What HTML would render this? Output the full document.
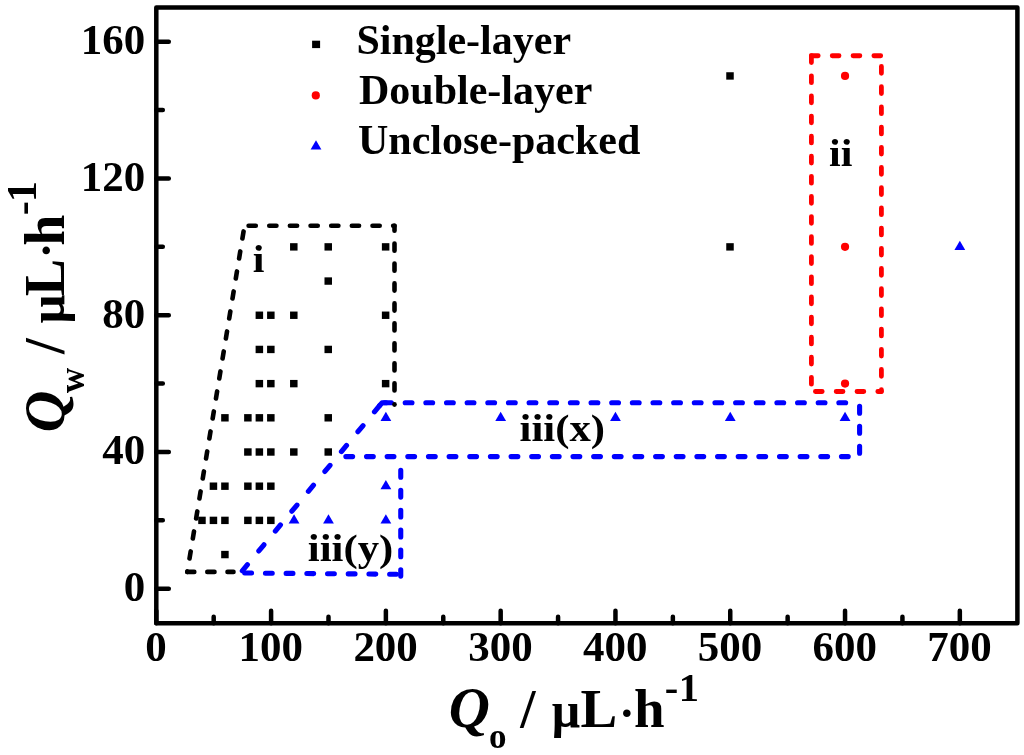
<!DOCTYPE html>
<html lang="en"><head><meta charset="utf-8"><title>Phase diagram</title>
<style>
html,body{margin:0;padding:0;background:#fff;}
body{width:1024px;height:755px;overflow:hidden;}
svg{display:block;}
text{font-family:"Liberation Serif","Times New Roman",serif;font-weight:bold;fill:#000;}
.tk{font-size:41.3px;}
.lg{font-size:42px;}
.rg{font-size:38.6px;}
.ax{stroke:#000;stroke-width:4.5;stroke-linecap:round;stroke-linejoin:round;fill:none;}
.ds{fill:none;stroke-linecap:round;}
</style></head><body>
<svg width="1024" height="755" viewBox="0 0 1024 755">
<rect width="1024" height="755" fill="#fff"/>

<rect class="ax" x="156.3" y="7.55" width="861.10" height="615.75"/>
<path class="ax" d="M156.30 623.3V610.80M213.69 623.3V616.80M271.09 623.3V610.80M328.49 623.3V616.80M385.88 623.3V610.80M443.27 623.3V616.80M500.67 623.3V610.80M558.07 623.3V616.80M615.46 623.3V610.80M672.86 623.3V616.80M730.25 623.3V610.80M787.64 623.3V616.80M845.04 623.3V610.80M902.43 623.3V616.80M959.83 623.3V610.80M156.3 588.70H168.80M156.3 520.33H162.80M156.3 451.95H168.80M156.3 383.58H162.80M156.3 315.20H168.80M156.3 246.83H162.80M156.3 178.45H168.80M156.3 110.08H162.80M156.3 41.70H168.80"/>
<text class="tk" transform="translate(156.0 661) scale(1.04 1)" text-anchor="middle">0</text>
<text class="tk" transform="translate(270.8 661) scale(1.04 1)" text-anchor="middle">100</text>
<text class="tk" transform="translate(385.6 661) scale(1.04 1)" text-anchor="middle">200</text>
<text class="tk" transform="translate(500.4 661) scale(1.04 1)" text-anchor="middle">300</text>
<text class="tk" transform="translate(615.2 661) scale(1.04 1)" text-anchor="middle">400</text>
<text class="tk" transform="translate(730.0 661) scale(1.04 1)" text-anchor="middle">500</text>
<text class="tk" transform="translate(844.7 661) scale(1.04 1)" text-anchor="middle">600</text>
<text class="tk" transform="translate(959.5 661) scale(1.04 1)" text-anchor="middle">700</text>
<text class="tk" transform="translate(145.2 601.0) scale(1.04 1)" text-anchor="end">0</text>
<text class="tk" transform="translate(145.2 464.3) scale(1.04 1)" text-anchor="end">40</text>
<text class="tk" transform="translate(145.2 327.5) scale(1.04 1)" text-anchor="end">80</text>
<text class="tk" transform="translate(145.2 190.8) scale(1.04 1)" text-anchor="end">120</text>
<text class="tk" transform="translate(145.2 54.0) scale(1.04 1)" text-anchor="end">160</text>
<path class="ds" stroke="#f00" stroke-width="4.8" stroke-dasharray="6.8 14.03" stroke-dashoffset="0.00" d="M811.4 55.75L881.4 55.75"/>
<path class="ds" stroke="#f00" stroke-width="4.8" stroke-dasharray="6.8 13.40" stroke-dashoffset="9.45" d="M881.4 55.75L881.4 391.5"/>
<path class="ds" stroke="#f00" stroke-width="4.8" stroke-dasharray="6.8 14.00" stroke-dashoffset="3.20" d="M881.4 391.5L811.4 391.5"/>
<path class="ds" stroke="#f00" stroke-width="4.8" stroke-dasharray="6.8 13.30" stroke-dashoffset="0.00" d="M811.4 55.75L811.4 391.5"/>
<path class="ds" stroke="#00f" stroke-width="5.1" stroke-dasharray="8.0 17.84" stroke-dashoffset="23.30" d="M240.7 572.8L382 402.8"/>
<path class="ds" stroke="#00f" stroke-width="5.1" stroke-dasharray="6.8 13.85" stroke-dashoffset="18.10" d="M382 402.8L855 402.8"/>
<path fill="none" stroke="#00f" stroke-width="5.1" stroke-linecap="round" stroke-linejoin="round" d="M379.6 405.7L382 402.8H386"/>
<path class="ds" stroke="#00f" stroke-width="5.1" stroke-dasharray="6.8 13.20" stroke-dashoffset="16.45" d="M859.6 402.8L859.6 456.6"/>
<path class="ds" stroke="#00f" stroke-width="5.1" stroke-dasharray="6.8 13.85" stroke-dashoffset="9.30" d="M859.6 456.6L345.85 456.6"/>
<path class="ds" stroke="#00f" stroke-width="5.1" stroke-dasharray="6.8 13.10" stroke-dashoffset="0.00" d="M400.75 470.4L400.75 576.1"/>
<path class="ds" stroke="#00f" stroke-width="5.1" stroke-dasharray="6.8 13.90" stroke-dashoffset="18.95" d="M243 573L400.75 574.3"/>
<path class="ds" stroke="#000" stroke-width="4.6" stroke-dasharray="7.2 13.45" stroke-dashoffset="20.05" d="M248 225.8L394.5 225.8"/>
<path class="ds" stroke="#000" stroke-width="4.6" stroke-dasharray="7.2 12.76" stroke-dashoffset="2.26" d="M394.5 225.8L394.5 399"/>
<path class="ds" stroke="#000" stroke-width="4.6" stroke-dasharray="7.2 13.07" stroke-dashoffset="14.55" d="M244.5 225.8L187.3 571.9"/>
<path class="ds" stroke="#000" stroke-width="4.6" stroke-dasharray="7.2 13.00" stroke-dashoffset="0.20" d="M187.3 571.9L233.5 571.9"/>
<path fill="none" stroke="#000" stroke-width="4.7" stroke-linecap="round" d="M394.5 404.4v0.2"/>
<rect x="726.25" y="72.24" width="7.5" height="7.4" fill="#000"/>
<rect x="290.05" y="243.18" width="7.5" height="7.4" fill="#000"/>
<rect x="324.49" y="243.18" width="7.5" height="7.4" fill="#000"/>
<rect x="381.88" y="243.18" width="7.5" height="7.4" fill="#000"/>
<rect x="726.25" y="243.18" width="7.5" height="7.4" fill="#000"/>
<rect x="324.49" y="277.36" width="7.5" height="7.4" fill="#000"/>
<rect x="255.61" y="311.55" width="7.5" height="7.4" fill="#000"/>
<rect x="267.09" y="311.55" width="7.5" height="7.4" fill="#000"/>
<rect x="290.05" y="311.55" width="7.5" height="7.4" fill="#000"/>
<rect x="381.88" y="311.55" width="7.5" height="7.4" fill="#000"/>
<rect x="255.61" y="345.74" width="7.5" height="7.4" fill="#000"/>
<rect x="267.09" y="345.74" width="7.5" height="7.4" fill="#000"/>
<rect x="324.49" y="345.74" width="7.5" height="7.4" fill="#000"/>
<rect x="255.61" y="379.93" width="7.5" height="7.4" fill="#000"/>
<rect x="267.09" y="379.93" width="7.5" height="7.4" fill="#000"/>
<rect x="290.05" y="379.93" width="7.5" height="7.4" fill="#000"/>
<rect x="381.88" y="379.93" width="7.5" height="7.4" fill="#000"/>
<rect x="221.17" y="414.11" width="7.5" height="7.4" fill="#000"/>
<rect x="244.13" y="414.11" width="7.5" height="7.4" fill="#000"/>
<rect x="255.61" y="414.11" width="7.5" height="7.4" fill="#000"/>
<rect x="267.09" y="414.11" width="7.5" height="7.4" fill="#000"/>
<rect x="324.49" y="414.11" width="7.5" height="7.4" fill="#000"/>
<rect x="244.13" y="448.30" width="7.5" height="7.4" fill="#000"/>
<rect x="255.61" y="448.30" width="7.5" height="7.4" fill="#000"/>
<rect x="267.09" y="448.30" width="7.5" height="7.4" fill="#000"/>
<rect x="290.05" y="448.30" width="7.5" height="7.4" fill="#000"/>
<rect x="324.49" y="448.30" width="7.5" height="7.4" fill="#000"/>
<rect x="209.69" y="482.49" width="7.5" height="7.4" fill="#000"/>
<rect x="221.17" y="482.49" width="7.5" height="7.4" fill="#000"/>
<rect x="244.13" y="482.49" width="7.5" height="7.4" fill="#000"/>
<rect x="255.61" y="482.49" width="7.5" height="7.4" fill="#000"/>
<rect x="267.09" y="482.49" width="7.5" height="7.4" fill="#000"/>
<rect x="198.22" y="516.68" width="7.5" height="7.4" fill="#000"/>
<rect x="209.69" y="516.68" width="7.5" height="7.4" fill="#000"/>
<rect x="221.17" y="516.68" width="7.5" height="7.4" fill="#000"/>
<rect x="244.13" y="516.68" width="7.5" height="7.4" fill="#000"/>
<rect x="255.61" y="516.68" width="7.5" height="7.4" fill="#000"/>
<rect x="267.09" y="516.68" width="7.5" height="7.4" fill="#000"/>
<rect x="221.17" y="550.86" width="7.5" height="7.4" fill="#000"/>
<circle cx="845.04" cy="75.89" r="4.1" fill="#f00"/>
<circle cx="845.04" cy="246.83" r="4.1" fill="#f00"/>
<circle cx="845.04" cy="383.58" r="4.1" fill="#f00"/>
<path fill="#00f" d="M959.83 240.73L965.23 250.03H954.43Z"/>
<path fill="#00f" d="M385.88 411.66L391.28 420.96H380.48Z"/>
<path fill="#00f" d="M500.67 411.66L506.07 420.96H495.27Z"/>
<path fill="#00f" d="M615.46 411.66L620.86 420.96H610.06Z"/>
<path fill="#00f" d="M730.25 411.66L735.65 420.96H724.85Z"/>
<path fill="#00f" d="M845.04 411.66L850.44 420.96H839.64Z"/>
<path fill="#00f" d="M385.88 480.04L391.28 489.34H380.48Z"/>
<path fill="#00f" d="M294.05 514.23L299.45 523.53H288.65Z"/>
<path fill="#00f" d="M328.49 514.23L333.88 523.53H323.09Z"/>
<path fill="#00f" d="M385.88 514.23L391.28 523.53H380.48Z"/>
<rect x="312.1" y="40.7" width="8" height="7.4" fill="#000"/>
<circle cx="315.8" cy="95.4" r="4.1" fill="#f00"/>
<path fill="#00f" d="M316.00 140.30L321.40 149.60H310.60Z"/>
<text class="lg" x="356.4" y="54">Single-layer</text>
<text class="lg" x="359" y="104.2">Double-layer</text>
<text class="lg" x="358" y="154.2">Unclose-packed</text>
<text class="rg" transform="translate(252.77 272.4) scale(1.09 1)">i</text>
<text class="rg" transform="translate(828.97 165.9) scale(1.09 1)">ii</text>
<text class="rg" transform="translate(519.56 440.5) scale(1.107 1)">iii(x)</text>
<text class="rg" transform="translate(307.81 560.6) scale(1.107 1)">iii(y)</text>
<g transform="translate(450.8 727.3)"><text><tspan x="-2.05" y="0.00" font-size="57" font-style="italic">Q</tspan><tspan x="38.17" y="20.40" font-size="35">o</tspan><tspan x="69.35" y="0.00" font-size="55">/</tspan><tspan x="101.05" y="0.00" font-size="50">μ</tspan><tspan x="129.76" y="0.00" font-size="55">L</tspan><tspan x="168.10" y="1.76" font-size="47">·</tspan><tspan x="183.32" y="0.00" font-size="55">h</tspan><tspan x="213.90" y="-26.10" font-size="40.5">-</tspan><tspan x="227.96" y="-26.10" font-size="40.5">1</tspan></text></g>
<g transform="translate(64 430.2) rotate(-90)"><text><tspan x="-2.07" y="0.00" font-size="57.5" font-style="italic">Q</tspan><tspan x="37.20" y="20.40" font-size="35">w</tspan><tspan x="76.16" y="0.00" font-size="56">/</tspan><tspan x="106.74" y="0.00" font-size="51">μ</tspan><tspan x="133.95" y="0.00" font-size="56">L</tspan><tspan x="171.90" y="-1.60" font-size="47">·</tspan><tspan x="184.50" y="0.00" font-size="56">h</tspan><tspan x="214.93" y="-27.80" font-size="42.5">-</tspan><tspan x="228.00" y="-27.80" font-size="42.5">1</tspan></text></g>
</svg></body></html>
